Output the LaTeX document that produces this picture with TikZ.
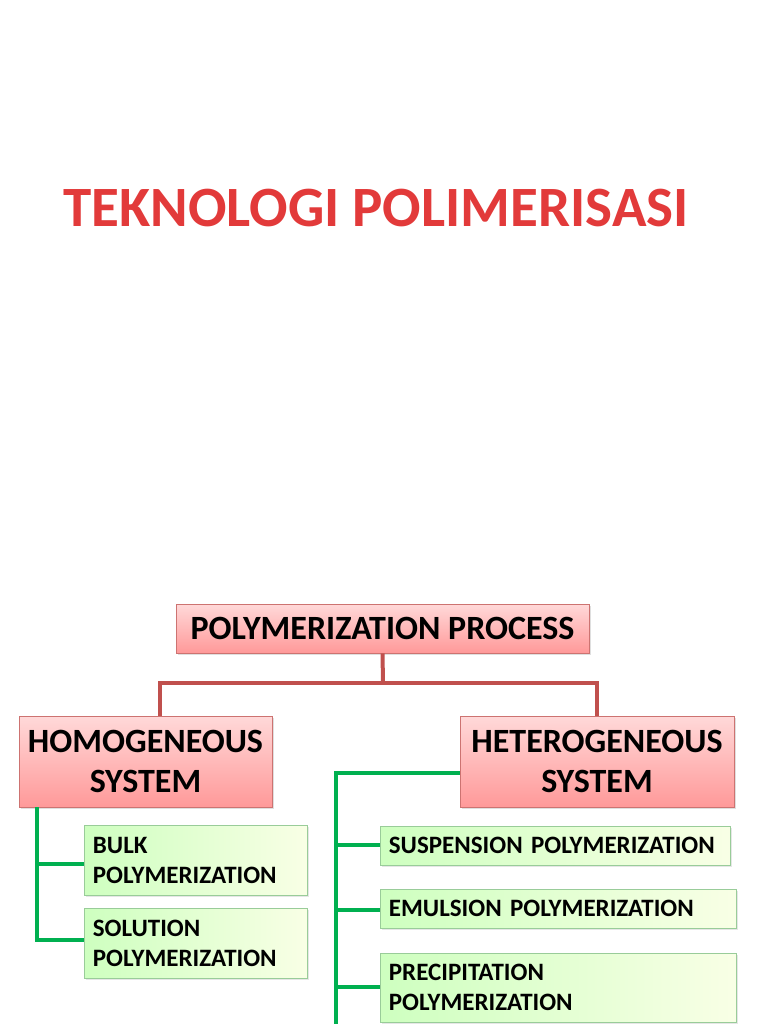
\documentclass[tikz,border=0pt]{standalone}
\usepackage{fontspec}
\setmainfont{Carlito}
\usetikzlibrary{shadows}
\definecolor{rline}{HTML}{C0504D}
\definecolor{gline}{HTML}{00B050}
\definecolor{titlered}{HTML}{E23A3A}
\tikzset{
 redbox/.style={draw=rline!80, line width=0.8pt, top color=red!15!white, bottom color=red!40!white, font=\bfseries, align=center, drop shadow={opacity=0.25,shadow xshift=1.5pt,shadow yshift=-1.5pt}, inner sep=0pt},
 greenbox/.style={draw=green!50!black!40, line width=0.8pt, left color=lime!30!green!25!white, right color=lime!10!white, font=\bfseries\fontsize{25}{30}\selectfont, align=left, anchor=west, inner sep=0pt, drop shadow={opacity=0.2,shadow xshift=1.5pt,shadow yshift=-1.5pt}},
 rcon/.style={draw=rline, line width=4pt},
 gcon/.style={draw=gline, line width=4pt},
}
\begin{document}
\begin{tikzpicture}[x=1pt,y=-1pt]
\useasboundingbox (0,0) rectangle (768,1024);
\node[text=titlered, font=\bfseries\fontsize{57}{60}\selectfont] (title) at (376,208) {TEKNOLOGI POLIMERISASI};
\node[redbox, minimum width=413pt, minimum height=49pt, font=\bfseries\fontsize{34}{36}\selectfont] (pp) at (382.5,628.5) {POLYMERIZATION PROCESS};
\node[redbox, minimum width=253pt, minimum height=91pt, font=\bfseries\fontsize{34}{40}\selectfont] (hom) at (145.5,761.5) {HOMOGENEOUS\\SYSTEM};
\node[redbox, minimum width=274pt, minimum height=91pt, font=\bfseries\fontsize{34}{40}\selectfont] (het) at (597,761.5) {HETEROGENEOUS\\SYSTEM};
\node[greenbox, minimum width=223pt, minimum height=70pt, text width=214pt] (bulk) at (84,860) {\hspace*{4pt}BULK\\\hspace*{4pt}POLYMERIZATION};
\node[greenbox, minimum width=223pt, minimum height=70pt, text width=214pt] (sol) at (84,943) {\hspace*{4pt}SOLUTION\\\hspace*{4pt}POLYMERIZATION};
\node[greenbox, minimum width=350pt, minimum height=39pt, text width=341pt] (sus) at (380,845.5) {\hspace*{4pt}SUSPENSION POLYMERIZATION};
\node[greenbox, minimum width=356pt, minimum height=39pt, text width=347pt] (emu) at (380,908.5) {\hspace*{4pt}EMULSION POLYMERIZATION};
\node[greenbox, minimum width=356pt, minimum height=69pt, text width=347pt] (pre) at (380,987.5) {\hspace*{4pt}PRECIPITATION\\\hspace*{4pt}POLYMERIZATION};
% red connectors
\coordinate (rj) at (383,683);
\draw[rcon] (pp.south) -- (rj);
\draw[rcon] (160,716) -- (160,683) -- (597,683) -- (het.north -| 597,0);
% green left
\coordinate (gl1) at (37,807);
\coordinate (gl2) at (37,942);
\draw[gcon] (gl1) -- (gl2);
\draw[gcon] (37,864) -- (bulk.west |- 0,864);
\draw[gcon] (37,940) -- (sol.west |- 0,940);
% green right
\coordinate (gr0) at (336,773);
\coordinate (gr1) at (336,1024);
\draw[gcon] (het.west |- gr0) -- (gr0) -- (gr1);
\draw[gcon] (336,845) -- (sus.west |- 0,845);
\draw[gcon] (336,910) -- (emu.west |- 0,910);
\draw[gcon] (336,987) -- (pre.west |- 0,987);
\end{tikzpicture}
\end{document}
